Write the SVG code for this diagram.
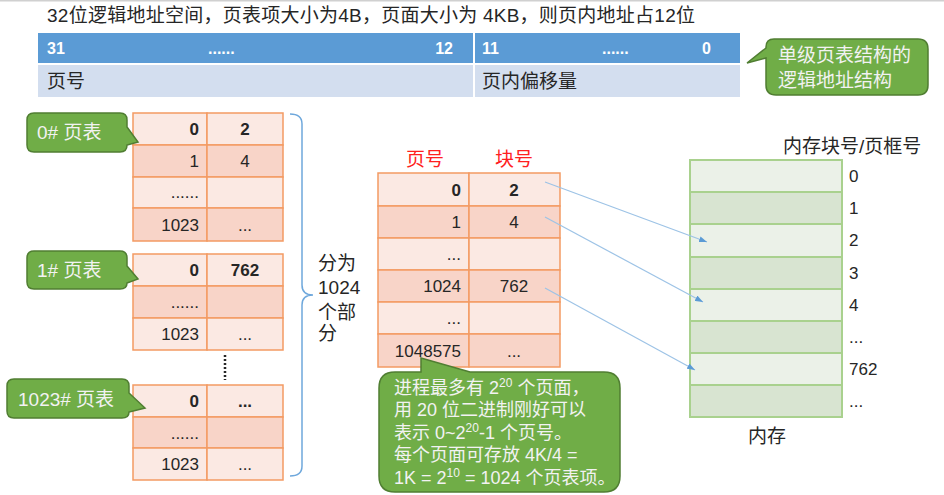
<svg xmlns="http://www.w3.org/2000/svg" width="944" height="495" viewBox="0 0 944 495">
<defs>
<style>
text{font-family:"Liberation Sans","Noto Sans CJK SC",sans-serif;fill:#262626}
.cn{font-size:19px}
.num{font-size:17px}
.b{font-weight:bold}
.w{fill:#FFFFFF;font-weight:bold;font-size:16px}
.ct{fill:#F2F2F2;font-size:19px}
.ct2{fill:#F2F2F2;font-size:18px}
.red{fill:#FF2020;font-size:19px}
.hb{fill:#5B9BD5}
.hl{fill:#D3DEEF}
.cl{fill:#FBE9E3;stroke:#F39A63;stroke-width:1.5}
.cd{fill:#F8D4C8;stroke:#F39A63;stroke-width:1.5}
.ml{fill:#EBF1E8;stroke:#A9D18E;stroke-width:2}
.md{fill:#D8E4D1;stroke:#A9D18E;stroke-width:2}
.call{fill:#70AD47;stroke:#507E32;stroke-width:1.5}
.conn{stroke:#9DC3E6;stroke-width:1.2;fill:none}
.r{text-anchor:end}
.m{text-anchor:middle}
</style>
<marker id="ah" viewBox="0 0 8 6" refX="8" refY="3" markerWidth="8" markerHeight="6" markerUnits="userSpaceOnUse" orient="auto">
<path d="M0,0 L8,3 L0,6 Z" fill="#5B9BD5"/>
</marker>
</defs>
<rect width="944" height="495" fill="#FFFFFF"/>
<rect x="0" y="0" width="944" height="1.5" fill="#D0D0D0"/>

<g id="title">
<text class="cn" x="47" y="22" textLength="648" lengthAdjust="spacing">32位逻辑地址空间，页表项大小为4B，页面大小为 4KB，则页内地址占12位</text>
</g>

<g id="address-structure">
<rect class="hb" x="38" y="33" width="435" height="30"/>
<rect class="hb" x="475" y="33" width="265" height="30"/>
<rect class="hl" x="38" y="65" width="435" height="32"/>
<rect class="hl" x="475" y="65" width="265" height="32"/>
<text class="w" x="47" y="54">31</text>
<text class="w" x="208" y="54">......</text>
<text class="w r" x="453" y="54">12</text>
<text class="w" x="482" y="54">11</text>
<text class="w" x="602" y="54">......</text>
<text class="w r" x="711" y="54">0</text>
<text class="cn" x="47" y="88">页号</text>
<text class="cn" x="482" y="88">页内偏移量</text>
</g>

<g id="callout-structure">
<path class="call" d="M774,39 H918 Q928,39 928,49 V85 Q928,95 918,95 H776 Q766,95 766,85 V58 L747,63 L766,48 V47 Q766,39 774,39 Z"/>
<text class="ct" x="778" y="62">单级页表结构的</text>
<text class="ct" x="778" y="87">逻辑地址结构</text>
</g>

<g id="pt0">
<rect class="cl" x="133" y="113" width="74" height="32"/>
<rect class="cl" x="207" y="113" width="76" height="32"/>
<rect class="cd" x="133" y="145" width="74" height="32"/>
<rect class="cd" x="207" y="145" width="76" height="32"/>
<rect class="cl" x="133" y="177" width="74" height="31"/>
<rect class="cl" x="207" y="177" width="76" height="31"/>
<rect class="cd" x="133" y="208" width="74" height="33"/>
<rect class="cd" x="207" y="208" width="76" height="33"/>
<text class="num b r" x="199" y="135">0</text>
<text class="num b m" x="245" y="135">2</text>
<text class="num r" x="199" y="167">1</text>
<text class="num m" x="245" y="167">4</text>
<text class="num r" x="199" y="198">......</text>
<text class="num r" x="199" y="231">1023</text>
<text class="num m" x="245" y="231">...</text>
</g>
<g id="callout-pt0">
<path class="call" d="M34,113 H120 Q127,113 127,120 V127 L138,142 L127,145 Q127,152 120,152 H34 Q27,152 27,145 V120 Q27,113 34,113 Z"/>
<text class="ct" x="37" y="139">0# 页表</text>
</g>

<g id="pt1">
<rect class="cl" x="133" y="254" width="74" height="32"/>
<rect class="cl" x="207" y="254" width="76" height="32"/>
<rect class="cd" x="133" y="286" width="74" height="32"/>
<rect class="cd" x="207" y="286" width="76" height="32"/>
<rect class="cl" x="133" y="318" width="74" height="32"/>
<rect class="cl" x="207" y="318" width="76" height="32"/>
<text class="num b r" x="199" y="276">0</text>
<text class="num b m" x="245" y="276">762</text>
<text class="num r" x="199" y="308">......</text>
<text class="num r" x="199" y="340">1023</text>
<text class="num m" x="245" y="340">...</text>
</g>
<g id="callout-pt1">
<path class="call" d="M34,251 H120 Q127,251 127,258 V266 L138,279 L127,283 Q127,289 120,289 H34 Q27,289 27,282 V258 Q27,251 34,251 Z"/>
<text class="ct" x="37" y="277">1# 页表</text>
</g>

<g id="vdots">
<line x1="225" y1="355" x2="225" y2="380" stroke="#262626" stroke-width="2.5" stroke-dasharray="2 2"/>
</g>

<g id="pt1023">
<rect class="cl" x="133" y="385" width="74" height="32"/>
<rect class="cl" x="207" y="385" width="76" height="32"/>
<rect class="cd" x="133" y="417" width="74" height="31"/>
<rect class="cd" x="207" y="417" width="76" height="31"/>
<rect class="cl" x="133" y="448" width="74" height="32"/>
<rect class="cl" x="207" y="448" width="76" height="32"/>
<text class="num b r" x="199" y="407">0</text>
<text class="num b m" x="245" y="407">...</text>
<text class="num r" x="199" y="439">......</text>
<text class="num r" x="199" y="470">1023</text>
<text class="num m" x="245" y="470">...</text>
</g>
<g id="callout-pt1023">
<path class="call" d="M14,379 H122 Q129,379 129,386 V393 L145,408 L129,412 Q129,418 122,418 H14 Q7,418 7,411 V386 Q7,379 14,379 Z"/>
<text class="ct" x="18" y="406">1023# 页表</text>
</g>

<g id="brace">
<path d="M290,114 Q302,114 302,124 V285 Q302,295 313,295 Q302,295 302,305 V466 Q302,476 290,476" fill="none" stroke="#6FA8DC" stroke-width="1.5"/>
<text class="cn" x="318" y="270">分为</text>
<text class="cn" x="318" y="294">1024</text>
<text class="cn" x="318" y="319">个部</text>
<text class="cn" x="318" y="340">分</text>
</g>

<g id="single-page-table">
<text class="red m" x="425" y="166">页号</text>
<text class="red m" x="514" y="166">块号</text>
<rect class="cl" x="378" y="173" width="91" height="33"/>
<rect class="cl" x="469" y="173" width="91" height="33"/>
<rect class="cd" x="378" y="206" width="91" height="32"/>
<rect class="cd" x="469" y="206" width="91" height="32"/>
<rect class="cl" x="378" y="238" width="91" height="32"/>
<rect class="cl" x="469" y="238" width="91" height="32"/>
<rect class="cd" x="378" y="270" width="91" height="32"/>
<rect class="cd" x="469" y="270" width="91" height="32"/>
<rect class="cl" x="378" y="302" width="91" height="32"/>
<rect class="cl" x="469" y="302" width="91" height="32"/>
<rect class="cd" x="378" y="334" width="91" height="33"/>
<rect class="cd" x="469" y="334" width="91" height="33"/>
<text class="num b r" x="461" y="196">0</text>
<text class="num b m" x="514" y="196">2</text>
<text class="num r" x="461" y="228">1</text>
<text class="num m" x="514" y="228">4</text>
<text class="num r" x="461" y="260">...</text>
<text class="num r" x="461" y="292">1024</text>
<text class="num m" x="514" y="292">762</text>
<text class="num r" x="461" y="324">...</text>
<text class="num r" x="461" y="357">1048575</text>
<text class="num m" x="514" y="357">...</text>
</g>

<g id="memory">
<text class="cn" x="783" y="153">内存块号/页框号</text>
<rect class="ml" x="690" y="160" width="152" height="32"/>
<rect class="md" x="690" y="192" width="152" height="32"/>
<rect class="ml" x="690" y="224" width="152" height="33"/>
<rect class="md" x="690" y="257" width="152" height="32"/>
<rect class="ml" x="690" y="289" width="152" height="32"/>
<rect class="md" x="690" y="321" width="152" height="32"/>
<rect class="ml" x="690" y="353" width="152" height="32"/>
<rect class="md" x="690" y="385" width="152" height="32"/>
<text class="num" x="849" y="182">0</text>
<text class="num" x="849" y="214">1</text>
<text class="num" x="849" y="246">2</text>
<text class="num" x="849" y="279">3</text>
<text class="num" x="849" y="311">4</text>
<text class="num" x="849" y="343">...</text>
<text class="num" x="849" y="375">762</text>
<text class="num" x="849" y="407">...</text>
<text class="cn m" x="767" y="443">内存</text>
</g>

<g id="connectors">
<line class="conn" x1="545" y1="182" x2="707" y2="242" marker-end="url(#ah)"/>
<line class="conn" x1="545" y1="217" x2="703" y2="302" marker-end="url(#ah)"/>
<line class="conn" x1="545" y1="288" x2="695" y2="370" marker-end="url(#ah)"/>
</g>

<g id="callout-process">
<path class="call" d="M395,372 H421 V358 L470,372 H604 Q620,372 620,388 V476 Q620,492 604,492 H395 Q379,492 379,476 V388 Q379,372 395,372 Z"/>
<text class="ct2" x="394" y="394">进程最多有 2<tspan font-size="12" dy="-7">20</tspan><tspan dy="7"> 个页面，</tspan></text>
<text class="ct2" x="394" y="416">用 20 位二进制刚好可以</text>
<text class="ct2" x="394" y="439">表示 0~2<tspan font-size="12" dy="-7">20</tspan><tspan dy="7">-1 个页号。</tspan></text>
<text class="ct2" x="394" y="461">每个页面可存放 4K/4 =</text>
<text class="ct2" x="394" y="484">1K = 2<tspan font-size="12" dy="-7">10</tspan><tspan dy="7"> = 1024 个页表项。</tspan></text>
</g>
</svg>
